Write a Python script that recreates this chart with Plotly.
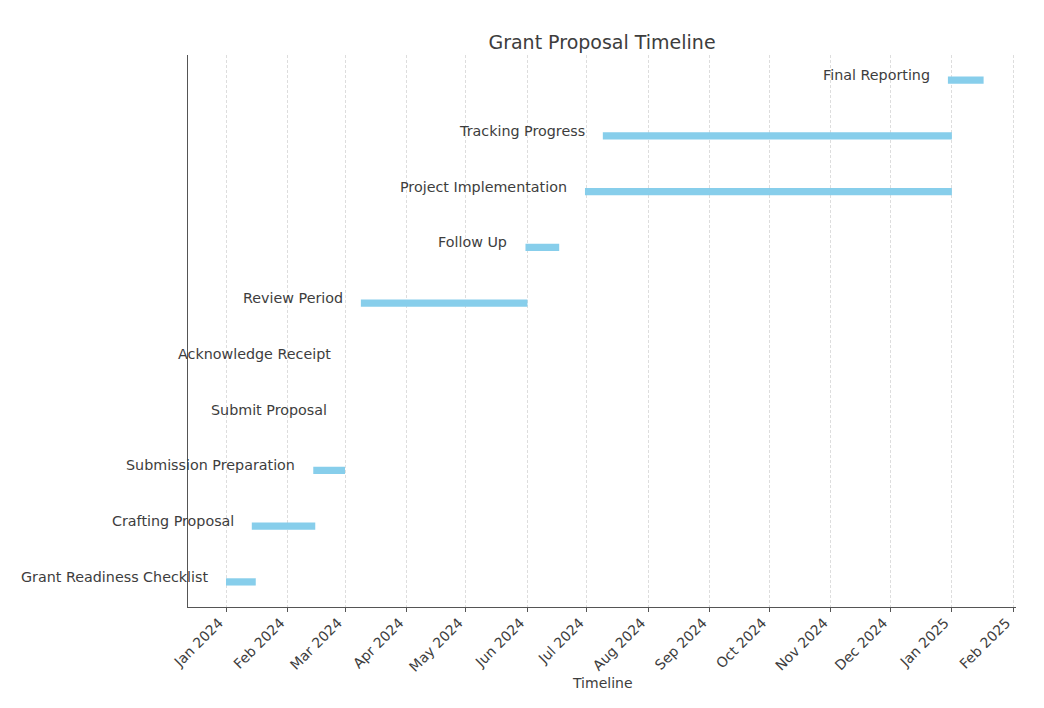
import plotly.graph_objects as go
import pandas as pd

tasks = ["Grant Readiness Checklist", "Crafting Proposal", "Submission Preparation",
         "Submit Proposal", "Acknowledge Receipt", "Review Period", "Follow Up",
         "Project Implementation", "Tracking Progress", "Final Reporting"]
starts = ["2024-01-01", "2024-01-14", "2024-02-14", "2024-03-01", "2024-03-03",
          "2024-03-09", "2024-05-31", "2024-06-30", "2024-07-09", "2024-12-30"]
ends = ["2024-01-16", "2024-02-15", "2024-03-01", "2024-03-01", "2024-03-03",
        "2024-06-01", "2024-06-17", "2025-01-01", "2025-01-01", "2025-01-17"]

s = pd.to_datetime(starts)
e = pd.to_datetime(ends)
dur_ms = [(b - a).total_seconds() * 1000 for a, b in zip(s, e)]
ypos = list(range(len(tasks)))

FONT = "DejaVu Sans"
TXT = "#3d3d3d"

fig = go.Figure()
fig.add_trace(go.Bar(
    orientation="h", y=ypos, x=dur_ms, base=starts, width=0.13,
    marker=dict(color="#87CEEB", line=dict(width=0)), showlegend=False,
    hoverinfo="skip"))

for i, (t, st) in enumerate(zip(tasks, starts)):
    fig.add_annotation(x=st, y=i, text=t, showarrow=False, xanchor="right",
                       yanchor="middle", xshift=-16, yshift=5,
                       font=dict(family=FONT, size=14.3, color=TXT))

fig.add_annotation(xref="paper", yref="paper", x=0.5, y=-0.1377, text="Timeline",
                   showarrow=False, xanchor="center", yanchor="middle",
                   font=dict(family=FONT, size=14, color=TXT))

fig.update_layout(
    width=1044, height=708,
    margin=dict(l=188, r=28, t=55, b=101),
    plot_bgcolor="white", paper_bgcolor="white",
    font=dict(family=FONT, size=14, color=TXT),
    title=dict(text="Grant Proposal Timeline", x=0.5, xref="paper",
               y=1 - 42 / 708, yref="container", xanchor="center", yanchor="middle",
               font=dict(family=FONT, size=19, color=TXT)),
    xaxis=dict(type="date", range=["2023-12-12T20:00", "2025-02-02T08:00"],
               tick0="2024-01-01", dtick="M1", tickformat="%b %Y", tickangle=-45,
               showline=True, linecolor="#555555", linewidth=1.2,
               ticks="outside", ticklen=4, tickcolor="#555555",
               ticklabelshift=-7, ticklabelstandoff=-3,
               showgrid=True, gridcolor="#dddddd", griddash="3px,2px", gridwidth=1,
               zeroline=False, tickfont=dict(family=FONT, size=14, color=TXT)),
    yaxis=dict(range=[-0.45, 9.45], showticklabels=False, ticks="",
               showgrid=False, zeroline=False, showline=True,
               linecolor="#555555", linewidth=1.2),
)

fig.write_html("out.html")
